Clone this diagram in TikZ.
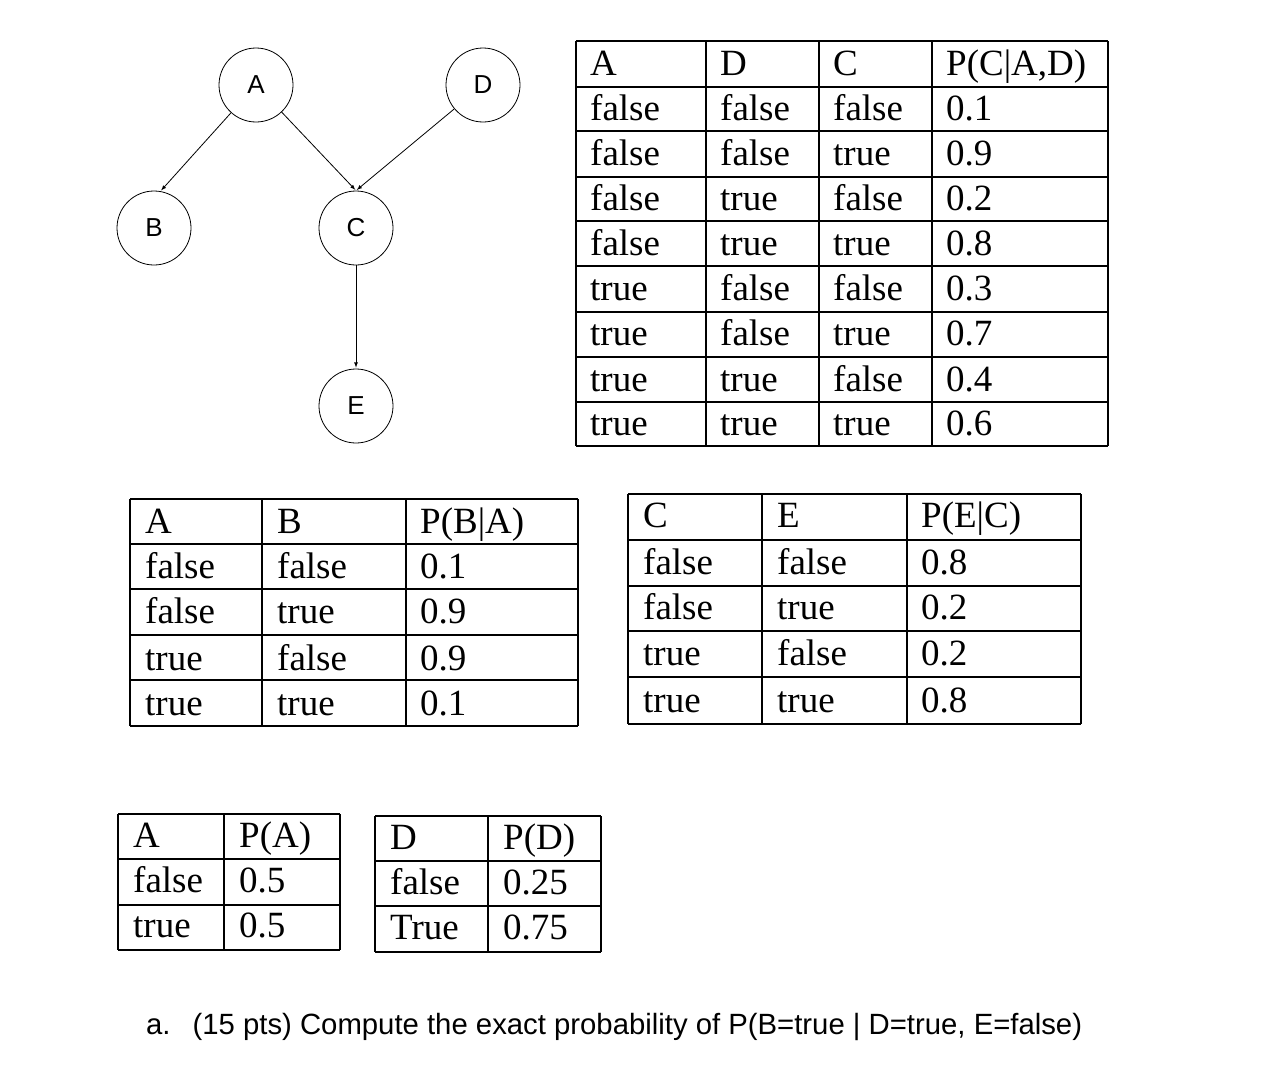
\documentclass[tikz,border=0pt]{standalone}
\usepackage{fontspec}
\setmainfont{Liberation Serif}
\newfontfamily\sansf{Liberation Sans}
\begin{document}
\begin{tikzpicture}[x=1pt,y=-1pt,
  vnode/.style={circle,draw,line width=0.8pt,minimum size=74pt,inner sep=0pt,font=\sansf\fontsize{26}{30}\selectfont},
  edge/.style={-latex,line width=0.8pt,shorten >=1pt},
  cell/.style={anchor=base west,inner sep=0pt,font=\fontsize{37}{40}\selectfont},
  grid/.style={line width=1.2pt}]
\useasboundingbox (0,0) rectangle (1282,1068);
% graph
\node[vnode] (A) at (256,85) {A};
\node[vnode] (D) at (483,85) {D};
\node[vnode] (B) at (154,228) {B};
\node[vnode] (C) at (356,228) {C};
\node[vnode] (E) at (356,406) {E};
\draw[edge] (A) -- (B.80);
\draw[edge] (A) -- (C.north);
\draw[edge] (D) -- (C.north);
\draw[edge] (C) -- (E);
\newcommand\mygrid[6]{%
  \foreach \xx in {#1} \draw[grid] (\xx,#5) -- (\xx,#6);
  \foreach \yy in {#2} \draw[grid] (#3,\yy) -- (#4,\yy);}
% Table C
\mygrid{576,706,819,932,1108}{41,87,131,177,221,266,312,357,402,446}{576}{1108}{41}{446}
\foreach \a/\b/\c/\d/\y [count=\i] in {
  A/D/C/P(C|A{,}D)/64, false/false/false/0.1/109, false/false/true/0.9/154,
  false/true/false/0.2/199, false/true/true/0.8/244, true/false/false/0.3/289,
  true/false/true/0.7/334, true/true/false/0.4/380, true/true/true/0.6/424}{
  \node[cell] (tc\i a) at (590,\y+11) {\a};
  \node[cell] (tc\i b) at (720,\y+11) {\b};
  \node[cell] (tc\i c) at (833,\y+11) {\c};
  \node[cell] (tc\i d) at (946,\y+11) {\d};}
% Table B
\mygrid{130,262,406,578}{499,544,589,635,680,726}{130}{578}{499}{726}
\foreach \a/\b/\d/\y [count=\i] in {
  A/B/P(B|A)/522, false/false/0.1/567, false/true/0.9/612,
  true/false/0.9/659, true/true/0.1/704}{
  \node[cell] (tb\i a) at (145,\y+11) {\a};
  \node[cell] (tb\i b) at (277,\y+11) {\b};
  \node[cell] (tb\i d) at (420,\y+11) {\d};}
% Table E
\mygrid{628,762,907,1081}{494,540,586,631,677,724}{628}{1081}{494}{724}
\foreach \a/\b/\d/\y [count=\i] in {
  C/E/P(E|C)/516, false/false/0.8/563, false/true/0.2/608,
  true/false/0.2/654, true/true/0.8/701}{
  \node[cell] (te\i a) at (643,\y+11) {\a};
  \node[cell] (te\i b) at (777,\y+11) {\b};
  \node[cell] (te\i d) at (921,\y+11) {\d};}
% Table A
\mygrid{118,224,340}{814,859,905,950}{118}{340}{814}{950}
\foreach \a/\d/\y [count=\i] in {A/P(A)/836, false/0.5/881, true/0.5/926}{
  \node[cell] (ta\i a) at (133,\y+11) {\a};
  \node[cell] (ta\i d) at (239,\y+11) {\d};}
% Table D
\mygrid{375,488,601}{816,861,906,952}{375}{601}{816}{952}
\foreach \a/\d/\y [count=\i] in {D/P(D)/838, false/0.25/883, True/0.75/928}{
  \node[cell] (td\i a) at (390,\y+11) {\a};
  \node[cell] (td\i d) at (503,\y+11) {\d};}
% caption
\node[anchor=base west,inner sep=0pt,font=\sansf\fontsize{29.3}{34}\selectfont] (cap) at (146,1034)
  {a.\hspace{22pt}(15 pts) Compute the exact probability of P(B=true | D=true, E=false)};
\end{tikzpicture}
\end{document}
